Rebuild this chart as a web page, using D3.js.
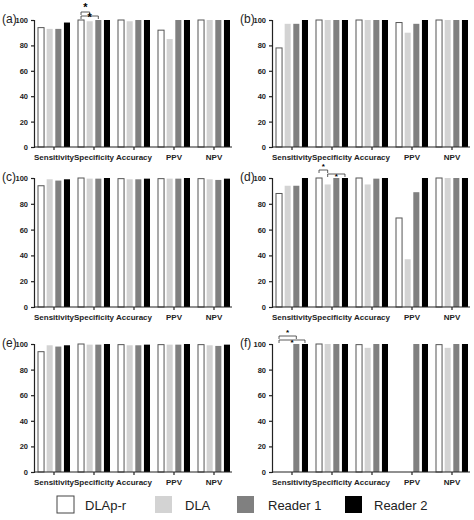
<!DOCTYPE html><html><head><meta charset="utf-8"><script src="https://cdn.jsdelivr.net/npm/d3@7"></script>
<style>body{margin:0;background:#fff}</style></head><body><svg id="c" width="474" height="520"></svg>
<script>
const categories=["Sensitivity","Specificity","Accuracy","PPV","NPV"];
const seriesNames=["DLAp-r","DLA","Reader 1","Reader 2"];
const colors=["#ffffff","#d3d3d3","#808080","#000000"];
const yTicks=[0,20,40,60,80,100];
const panelLabels=["(a)","(b)","(c)","(d)","(e)","(f)"];
const panelA=[[94,93,93,98],[100,99,100,100],[100,99,100,100],[92,85,100,100],[100,100,100,100]];
const panelB=[[78,97,97,100],[100,100,100,100],[100,100,100,100],[98,90,97,100],[100,100,100,100]];
const panelC=[[94,99,98,99],[100,99.5,99.5,100],[99.5,99,99,99.5],[99.5,99.5,99.5,100],[99.5,99,98.5,99.5]];
const panelD=[[88,94,94,100],[100,95,100,100],[100,95,99.5,100],[69,37,89,100],[100,100,100,100]];
const panelE=[[94,99,98,99],[100,99.5,99.5,100],[99.5,99,99,99.5],[99.5,99.5,99.5,100],[99.5,99,98.5,99.5]];
const panelF=[[0,0,100,100],[100,100,100,100],[99.5,97,100,100],[0,0,100,100],[99.5,97,100,100]];
const panels=[panelA,panelB,panelC,panelD,panelE,panelF];
// significance brackets: [category, barFrom, barTo, level]
const sig=[[[1,0,1,0],[1,0,2,1]],[],[],[[1,0,1,0],[1,1,3,1]],[],[[0,0,2,0],[0,0,3,1]]];
const svg=d3.select("#c");
const font="Arial, Liberation Sans, sans-serif";
const rows=[[20,147],[178,307],[344,472]];
const cols=[[34,232],[272,470]];
panels.forEach((data,i)=>{
  const r=rows[Math.floor(i/2)], c=cols[i%2];
  const g=svg.append("g");
  const x=d3.scaleBand().domain(categories).range([c[0]+2,c[1]]).paddingInner(0.2).paddingOuter(0.05);
  const xs=d3.scaleBand().domain(seriesNames).range([0,x.bandwidth()]).paddingInner(0.3);
  const y=d3.scaleLinear().domain([0,100]).range([r[1],r[0]]);
  data.forEach((vals,ci)=>{
    vals.forEach((v,si)=>{
      if(v<=0)return;
      g.append("rect").attr("x",x(categories[ci])+xs(seriesNames[si])).attr("y",y(v))
       .attr("width",xs.bandwidth()).attr("height",y(0)-y(v))
       .attr("fill",colors[si]).attr("stroke",si==0?"#555":"none").attr("stroke-width",1);
    });
  });
  const ya=g.append("g").attr("transform",`translate(${c[0]},0)`).call(d3.axisLeft(y).tickValues(yTicks).tickSize(3));
  ya.selectAll("text").attr("font-family",font).attr("font-size",7.5).attr("font-weight","bold").attr("fill","#222");
  const xa=g.append("g").attr("transform",`translate(0,${r[1]})`).call(d3.axisBottom(x).tickSize(3).tickSizeOuter(0));
  xa.select(".domain").attr("d",`M${c[0]},0H${c[1]}`);
  xa.selectAll("text").attr("font-family",font).attr("font-size",8).attr("font-weight","bold").attr("fill","#222").attr("dy","0.9em");
  g.selectAll(".domain,.tick line").attr("stroke","#222").attr("stroke-width",1.2);
  g.append("text").attr("x",c[0]-32).attr("y",r[0]+3).text(panelLabels[i]).attr("font-family",font).attr("font-size",12).attr("fill","#222");
  sig[i].forEach(([ci,a,b,lvl])=>{
    const x1=x(categories[ci])+xs(seriesNames[a])+xs.bandwidth()/2;
    const x2=x(categories[ci])+xs(seriesNames[b])+xs.bandwidth()/2;
    const yy=y(100)-8+lvl*4;
    g.append("path").attr("d",`M${x1},${yy+3}V${yy}H${x2}V${yy+3}`).attr("fill","none").attr("stroke","#333").attr("stroke-width",0.8);
    g.append("text").attr("x",(x1+x2)/2).attr("y",yy+(lvl?5:-1)).attr("text-anchor","middle").text("*").attr("font-family",font).attr("font-size",i==0?11:8).attr("font-weight","bold");
  });
});
const leg=[[57,85],[155,185],[237,268],[345,374]];
seriesNames.forEach((n,i)=>{
  svg.append("rect").attr("x",leg[i][0]).attr("y",496).attr("width",17).attr("height",17).attr("fill",colors[i]).attr("stroke",i==0?"#444":"none");
  svg.append("text").attr("x",leg[i][1]).attr("y",510).text(n).attr("font-family",font).attr("font-size",13).attr("fill","#222");
});
</script></body></html>
